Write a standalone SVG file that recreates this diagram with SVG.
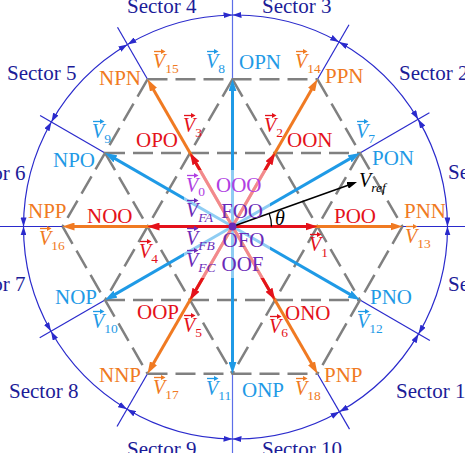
<svg xmlns="http://www.w3.org/2000/svg" xmlns:xlink="http://www.w3.org/1999/xlink" width="465" height="453" viewBox="0 0 465 453">
<style>
text{font-family:"Liberation Serif","Times New Roman",serif}
.sec{font-size:21px;fill:#1c1c98}
.lbl{font-size:21px}
.v{font-size:20px}
.vi{font-style:italic}
.sub{font-size:13.5px}
.or{fill:#f07a22}.rd{fill:#e4121b}.bl{fill:#1f9ae6}.mg{fill:#b03ee2}.pu{fill:#6a2ab8}.bk{fill:#000}
.grid line{stroke:#808080;stroke-width:2.5;stroke-dasharray:20 8;fill:none}
.nv{stroke:#2a2acc;stroke-width:1.2;fill:none}
.arc{stroke:#2a2acc;stroke-width:1.2;fill:none;marker-start:url(#aN);marker-end:url(#aN)}
.vo{stroke:#f07a22;stroke-width:3;marker-end:url(#aO)}
.vr{stroke:#e4121b;stroke-width:3;marker-end:url(#aR)}
.vb{stroke:#1f9ae6;stroke-width:3;marker-end:url(#aB)}
</style>
<defs>
<marker id="aO" viewBox="0 0 12 8" refX="6" refY="4" markerWidth="12" markerHeight="8" markerUnits="userSpaceOnUse" orient="auto"><path d="M0,0L12,4L0,8z" fill="#f07a22"/></marker>
<marker id="aR" viewBox="0 0 12 8" refX="6" refY="4" markerWidth="12" markerHeight="8" markerUnits="userSpaceOnUse" orient="auto"><path d="M0,0L12,4L0,8z" fill="#e4121b"/></marker>
<marker id="aB" viewBox="0 0 12 8" refX="6" refY="4" markerWidth="12" markerHeight="8" markerUnits="userSpaceOnUse" orient="auto"><path d="M0,0L12,4L0,8z" fill="#1f9ae6"/></marker>
<marker id="aK" viewBox="0 0 10 7" refX="5" refY="3.5" markerWidth="10" markerHeight="7" markerUnits="userSpaceOnUse" orient="auto"><path d="M0,0L10,3.5L0,7z" fill="#000"/></marker>
<marker id="aN" viewBox="0 0 9 6" refX="9" refY="3" markerWidth="9" markerHeight="6" markerUnits="userSpaceOnUse" orient="auto-start-reverse"><path d="M0,0L9,3L0,6z" fill="#2a2acc"/></marker>
<g id="ov"><path d="M0,0H8" stroke="currentColor" stroke-width="1.3"/><path d="M7,-2.6L11.5,0L7,2.6z" fill="currentColor"/></g>
<g id="gridH" class="grid">
<line x1="147.5" y1="79.3" x2="317.5" y2="79.3"/>
<line x1="105" y1="152.9" x2="360" y2="152.9"/>
<line x1="105" y1="300.1" x2="360" y2="300.1"/>
<line x1="147.5" y1="373.7" x2="317.5" y2="373.7"/>
</g>
</defs>

<g id="frame">
<line x1="0" y1="226.5" x2="465" y2="226.5" class="nv"/>
<line x1="232.5" y1="0" x2="232.5" y2="453" stroke="#5c6ee8" stroke-width="1.2"/>
<path class="arc" d="M447.5,226.5A212,212 0 0 0 418.12,119.33"/>
<path class="arc" d="M418.12,119.33A212,212 0 0 0 339.02,41.99"/>
<path class="arc" d="M339.02,41.99A212,212 0 0 0 232.5,15.02"/>
<path class="arc" d="M232.5,15.02A212,212 0 0 0 127.47,44.59"/>
<path class="arc" d="M127.47,44.59A212,212 0 0 0 51.37,121.93"/>
<path class="arc" d="M51.37,121.93A212,212 0 0 0 23.5,226.5"/>
<path class="arc" d="M23.5,226.5A212,212 0 0 0 50.95,331.32"/>
<path class="arc" d="M50.95,331.32A212,212 0 0 0 127.04,409.16"/>
<path class="arc" d="M127.04,409.16A212,212 0 0 0 232.5,438.98"/>
<path class="arc" d="M232.5,438.98A212,212 0 0 0 339.46,411.76"/>
<path class="arc" d="M339.46,411.76A212,212 0 0 0 418.56,333.92"/>
<path class="arc" d="M418.56,333.92A212,212 0 0 0 447.5,226.5"/>
<line class="nv" x1="317.5" y1="79.28" x2="349" y2="24.7"/>
<line class="nv" x1="147.5" y1="79.28" x2="117.5" y2="27.3"/>
<line class="nv" x1="147.5" y1="373.72" x2="117" y2="426.55"/>
<line class="nv" x1="317.5" y1="373.72" x2="349.5" y2="429.15"/>
<line class="nv" x1="360" y1="152.9" x2="429.4" y2="112.8"/>
<line class="nv" x1="105" y1="152.9" x2="40.1" y2="115.4"/>
<line class="nv" x1="105" y1="300.1" x2="39.7" y2="337.8"/>
<line class="nv" x1="360" y1="300.1" x2="429.9" y2="340.4"/>
</g>

<g id="sectors">
<text class="sec" x="448" y="179">Sector 1</text>
<text class="sec" x="399" y="80">Sector 2</text>
<text class="sec" x="262" y="13">Sector 3</text>
<text class="sec" x="127" y="13">Sector 4</text>
<text class="sec" x="7" y="80">Sector 5</text>
<text class="sec" x="25.5" y="180" text-anchor="end">Sector 6</text>
<text class="sec" x="25.5" y="291" text-anchor="end">Sector 7</text>
<text class="sec" x="9" y="398">Sector 8</text>
<text class="sec" x="127" y="456">Sector 9</text>
<text class="sec" x="262" y="456">Sector 10</text>
<text class="sec" x="396" y="398">Sector 11</text>
<text class="sec" x="448" y="291">Sector 12</text>
</g>

<g id="connectors">
<use xlink:href="#gridH"/>
<use xlink:href="#gridH" transform="rotate(60 232.5 226.5)"/>
<use xlink:href="#gridH" transform="rotate(120 232.5 226.5)"/>
<line class="vb" x1="232.5" y1="226.5" x2="354.8" y2="155.89"/>
<line class="vb" x1="232.5" y1="226.5" x2="232.5" y2="85.28"/>
<line class="vb" x1="232.5" y1="226.5" x2="110.2" y2="155.89"/>
<line class="vb" x1="232.5" y1="226.5" x2="110.2" y2="297.11"/>
<line class="vb" x1="232.5" y1="226.5" x2="232.5" y2="367.72"/>
<line class="vb" x1="232.5" y1="226.5" x2="354.8" y2="297.11"/>
<line class="vo" x1="232.5" y1="226.5" x2="314.5" y2="84.48"/>
<line class="vo" x1="232.5" y1="226.5" x2="150.5" y2="84.48"/>
<line class="vo" x1="232.5" y1="226.5" x2="150.5" y2="368.52"/>
<line class="vo" x1="232.5" y1="226.5" x2="314.5" y2="368.52"/>
<line class="vr" x1="232.5" y1="226.5" x2="272" y2="158.08"/>
<line class="vr" x1="232.5" y1="226.5" x2="193" y2="158.08"/>
<line class="vr" x1="232.5" y1="226.5" x2="193" y2="294.92"/>
<line class="vr" x1="232.5" y1="226.5" x2="272" y2="294.92"/>
<rect x="184" y="170" width="86" height="108" fill="#fff" fill-opacity="0.5"/>
<line class="vo" x1="232.5" y1="226.5" x2="396.5" y2="226.5"/>
<line class="vo" x1="232.5" y1="226.5" x2="68.5" y2="226.5"/>
<line class="vr" x1="232.5" y1="226.5" x2="311.5" y2="226.5"/>
<line class="vr" x1="232.5" y1="226.5" x2="153.5" y2="226.5"/>
<line x1="232.5" y1="226.5" x2="352.3" y2="183.7" stroke="#000" stroke-width="1.5" marker-end="url(#aK)"/>
<path d="M271.5,226.5A39,39 0 0 0 269.2,213.35" stroke="#000" stroke-width="1.3" fill="none"/>
<circle cx="232.5" cy="226.5" r="4" fill="#6a2ab8"/>
</g>

<g id="node-center">
<text class="v mg" x="186" y="192"><tspan class="vi">V</tspan><tspan class="sub" dy="4">0</tspan></text>
<use xlink:href="#ov" x="187" y="175.5" color="#b03ee2"/>
<text class="lbl mg" x="216" y="192">OOO</text>
<text class="v pu" x="186" y="217"><tspan class="vi">V</tspan><tspan class="sub vi" dy="5">FA</tspan></text>
<use xlink:href="#ov" x="187" y="200.5" color="#6a2ab8"/>
<text class="lbl pu" x="221" y="217.5">FOO</text>
<text class="v pu" x="186" y="245"><tspan class="vi">V</tspan><tspan class="sub vi" dy="5">FB</tspan></text>
<use xlink:href="#ov" x="187" y="228.5" color="#6a2ab8"/>
<text class="lbl pu" x="222.5" y="246.5">OFO</text>
<text class="v pu" x="186" y="267"><tspan class="vi">V</tspan><tspan class="sub vi" dy="5">FC</tspan></text>
<use xlink:href="#ov" x="187" y="250.5" color="#6a2ab8"/>
<text class="lbl pu" x="221.5" y="271">OOF</text>
<text class="v bk vi" x="275" y="225">θ</text>
<text class="v bk" x="359" y="187"><tspan class="vi">V</tspan><tspan class="sub vi" dy="5">ref</tspan></text>
</g>

<g id="node-PNN"><text class="lbl or" x="404" y="218">PNN</text>
<text class="v or" x="405" y="243"><tspan class="vi">V</tspan><tspan class="sub" dy="5">13</tspan></text><use xlink:href="#ov" x="406" y="226.5" color="#f07a22"/></g>
<g id="node-PPN"><text class="lbl or" x="325" y="83">PPN</text>
<text class="v or" x="295" y="68"><tspan class="vi">V</tspan><tspan class="sub" dy="5">14</tspan></text><use xlink:href="#ov" x="296" y="51.5" color="#f07a22"/></g>
<g id="node-NPN"><text class="lbl or" x="99" y="85">NPN</text>
<text class="v or" x="153" y="68"><tspan class="vi">V</tspan><tspan class="sub" dy="5">15</tspan></text><use xlink:href="#ov" x="154" y="51.5" color="#f07a22"/></g>
<g id="node-NPP"><text class="lbl or" x="28" y="218">NPP</text>
<text class="v or" x="39" y="245"><tspan class="vi">V</tspan><tspan class="sub" dy="5">16</tspan></text><use xlink:href="#ov" x="40" y="228.5" color="#f07a22"/></g>
<g id="node-NNP"><text class="lbl or" x="99" y="382">NNP</text>
<text class="v or" x="153" y="394"><tspan class="vi">V</tspan><tspan class="sub" dy="5">17</tspan></text><use xlink:href="#ov" x="154" y="377.5" color="#f07a22"/></g>
<g id="node-PNP"><text class="lbl or" x="324" y="382">PNP</text>
<text class="v or" x="295" y="395"><tspan class="vi">V</tspan><tspan class="sub" dy="5">18</tspan></text><use xlink:href="#ov" x="296" y="378.5" color="#f07a22"/></g>

<g id="node-POO"><text class="lbl rd" x="334" y="223">POO</text>
<text class="v rd" x="309" y="251"><tspan class="vi">V</tspan><tspan class="sub" dy="6">1</tspan></text><use xlink:href="#ov" x="310" y="234.5" color="#e4121b"/></g>
<g id="node-OON"><text class="lbl rd" x="287" y="147">OON</text>
<text class="v rd" x="264" y="132"><tspan class="vi">V</tspan><tspan class="sub" dy="5">2</tspan></text><use xlink:href="#ov" x="265" y="115.5" color="#e4121b"/></g>
<g id="node-OPO"><text class="lbl rd" x="136" y="147">OPO</text>
<text class="v rd" x="183" y="132"><tspan class="vi">V</tspan><tspan class="sub" dy="5">3</tspan></text><use xlink:href="#ov" x="184" y="115.5" color="#e4121b"/></g>
<g id="node-NOO"><text class="lbl rd" x="87" y="223">NOO</text>
<text class="v rd" x="139" y="258"><tspan class="vi">V</tspan><tspan class="sub" dy="5">4</tspan></text><use xlink:href="#ov" x="140" y="241.5" color="#e4121b"/></g>
<g id="node-OOP"><text class="lbl rd" x="137" y="319">OOP</text>
<text class="v rd" x="183" y="332"><tspan class="vi">V</tspan><tspan class="sub" dy="5">5</tspan></text><use xlink:href="#ov" x="184" y="315.5" color="#e4121b"/></g>
<g id="node-ONO"><text class="lbl rd" x="285" y="320">ONO</text>
<text class="v rd" x="269" y="333"><tspan class="vi">V</tspan><tspan class="sub" dy="4">6</tspan></text><use xlink:href="#ov" x="270" y="316.5" color="#e4121b"/></g>

<g id="node-PON"><text class="lbl bl" x="372" y="165">PON</text>
<text class="v bl" x="356" y="138"><tspan class="vi">V</tspan><tspan class="sub" dy="5">7</tspan></text><use xlink:href="#ov" x="357" y="121.5" color="#1f9ae6"/></g>
<g id="node-OPN"><text class="lbl bl" x="239" y="69">OPN</text>
<text class="v bl" x="206" y="68"><tspan class="vi">V</tspan><tspan class="sub" dy="5">8</tspan></text><use xlink:href="#ov" x="207" y="51.5" color="#1f9ae6"/></g>
<g id="node-NPO"><text class="lbl bl" x="53" y="167">NPO</text>
<text class="v bl" x="92" y="138"><tspan class="vi">V</tspan><tspan class="sub" dy="5">9</tspan></text><use xlink:href="#ov" x="93" y="121.5" color="#1f9ae6"/></g>
<g id="node-NOP"><text class="lbl bl" x="55" y="304">NOP</text>
<text class="v bl" x="92" y="328"><tspan class="vi">V</tspan><tspan class="sub" dy="5">10</tspan></text><use xlink:href="#ov" x="93" y="311.5" color="#1f9ae6"/></g>
<g id="node-ONP"><text class="lbl bl" x="242" y="397">ONP</text>
<text class="v bl" x="206" y="395"><tspan class="vi">V</tspan><tspan class="sub" dy="5">11</tspan></text><use xlink:href="#ov" x="207" y="378.5" color="#1f9ae6"/></g>
<g id="node-PNO"><text class="lbl bl" x="370" y="304">PNO</text>
<text class="v bl" x="357" y="328"><tspan class="vi">V</tspan><tspan class="sub" dy="5">12</tspan></text><use xlink:href="#ov" x="358" y="311.5" color="#1f9ae6"/></g>
</svg>
